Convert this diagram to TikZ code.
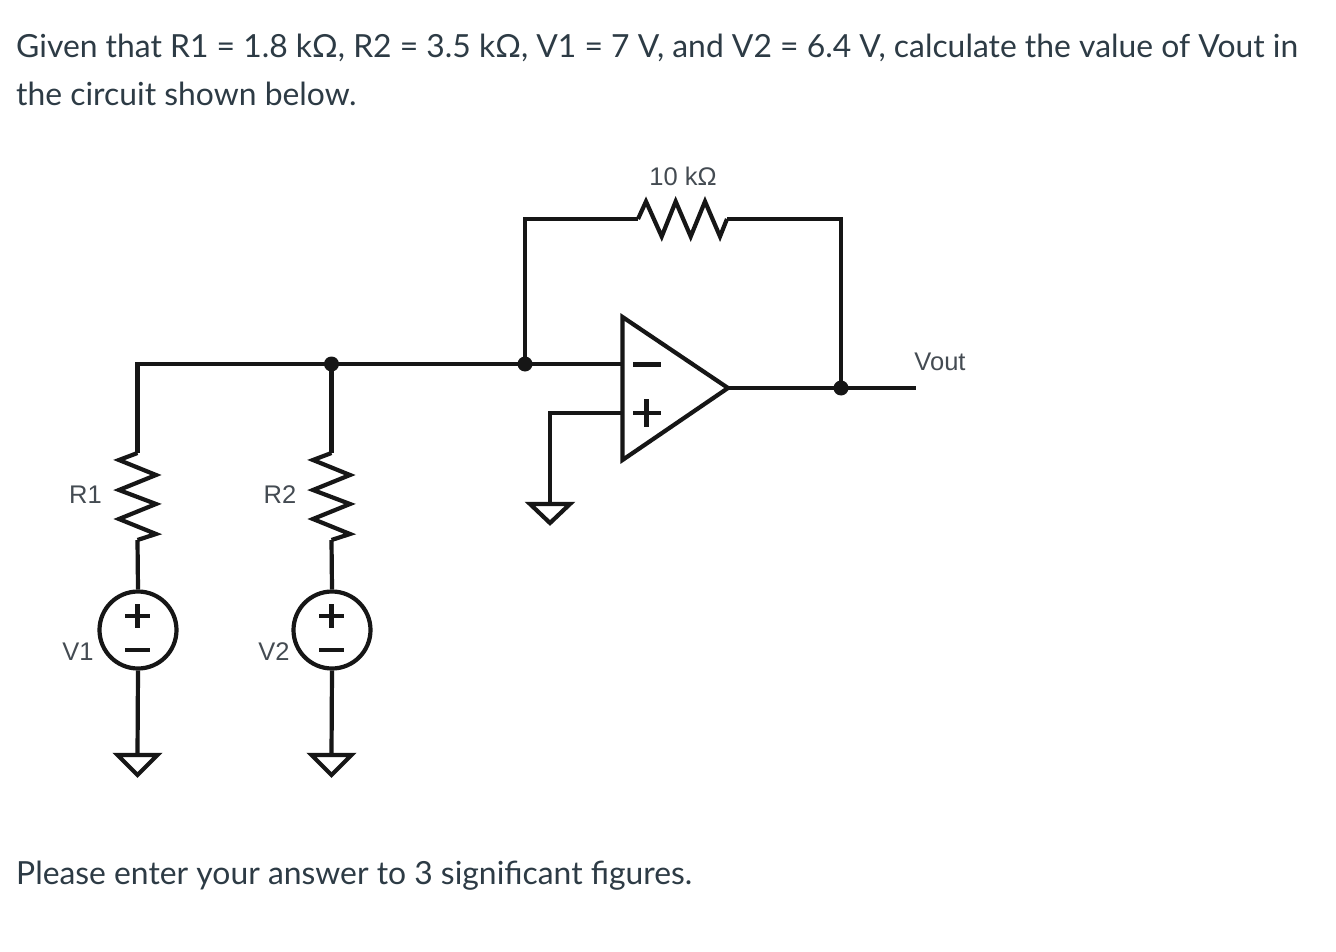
\documentclass[tikz,border=0pt]{standalone}
\usepackage{fontspec}
\setmainfont{Lato}[Ligatures=Common]
\newfontfamily\labelfont{Liberation Sans}
\definecolor{bodytext}{HTML}{2D3B45}
\definecolor{wirecol}{HTML}{161616}
\definecolor{labelcol}{HTML}{444B52}
\begin{document}
\begin{tikzpicture}[x=1pt,y=-1pt,
  wire/.style={draw=wirecol,line width=4.2pt,line join=miter},
  zig/.style={draw=wirecol,line width=4.2pt,line join=miter,miter limit=10},
  sym/.style={draw=wirecol,line width=4.2pt},
  dot/.style={circle,fill=wirecol,inner sep=0pt,minimum size=15pt},
  para/.style={anchor=base west,inner sep=0pt,text=bodytext,font=\fontsize{31.85}{37}\selectfont},
  lab/.style={inner sep=0pt,text=labelcol,font=\labelfont\fontsize{25.5}{29}\selectfont},
  source/.style={circle,draw=wirecol,line width=4.2pt,fill=white,minimum size=77pt,inner sep=0pt}]
\useasboundingbox (0,0) rectangle (1336,952);
\fill[white] (0,0) rectangle (1336,952);
% text
\node[para] (t1) at (16,57.5) {Given that R1 = 1.8 kΩ, R2 = 3.5 kΩ, V1 = 7 V, and V2 = 6.4 V, calculate the value of Vout in};
\node[para] (t2) at (16,105.5) {the circuit shown below.};
\node[para] (t3) at (16,884) {Please enter your answer to 3 significant figures.};
% coordinates
\coordinate (tl) at (525,219);
\coordinate (tr) at (841,219);
\coordinate (rfa) at (638,219);
\coordinate (rfb) at (727,219);
\coordinate (r1top) at (137.5,364);
\coordinate (r1a) at (137.5,453);
\coordinate (r1b) at (137.5,540);
\coordinate (r2a) at (331.5,453);
\coordinate (r2b) at (331.5,540);
\coordinate (inm) at (622.5,364);
\coordinate (inp) at (622.5,413);
\coordinate (gp) at (550,413);
\coordinate (gpb) at (550,504);
\coordinate (g1) at (137.5,755);
\coordinate (g2) at (331.5,755);
\coordinate (vo) at (916,388);
% opamp
\coordinate (oa) at (622.5,317);
\coordinate (ob) at (622.5,460);
\coordinate (oc) at (728,388);
\node[dot] (j1) at (331.5,364) {};
\node[dot] (j2) at (525,364) {};
\node[dot] (j3) at (841,388) {};
\node[source] (v1) at (138,630) {};
\node[source] (v2) at (332,630) {};
% wires
\draw[wire] (r1a) -- (r1top) -- (j1.center) -- (j2.center) -- (inm);
\draw[wire] (r2a) -- (j1.center);
\draw[wire] (j2.center) -- (tl) -- (rfa);
\draw[wire] (rfb) -- (tr) -- (j3.center);
\draw[wire] (oc) -- (j3.center) -- (vo);
\draw[wire] (inp) -- (gp) -- (gpb);
\draw[wire] (r1b) -- (v1.north);
\draw[wire] (r2b) -- (v2.north);
\draw[wire] (v1.south) -- (g1);
\draw[wire] (v2.south) -- (g2);
% resistors
\draw[zig] (rfa) -- (646,201.5) -- (661.7,236.5) -- (675.7,201.5) -- (690.7,236.5) -- (705,201.5) -- (720,236.5) -- (rfb);
\draw[zig] (r1a) -- (119,460) -- (156,475) -- (119,490) -- (156,504) -- (119,519) -- (156,534) -- (r1b);
\draw[zig] (r2a) -- (313,460) -- (350,475) -- (313,490) -- (350,504) -- (313,519) -- (350,534) -- (r2b);
% op amp body
\draw[wire] (oa) -- (oc) -- (ob) -- cycle;
\draw[sym] (633,364.5) -- (661,364.5);
\draw[sym] (633,413) -- (661,413) (646.5,399) -- (646.5,427);
% source marks
\draw[sym] (125,616) -- (150,616) (137.5,604) -- (137.5,628);
\draw[sym] (125,650) -- (150,650);
\draw[sym] (319,616) -- (344,616) (331.5,604) -- (331.5,628);
\draw[sym] (319,650) -- (344,650);
% grounds
\draw[wire] (g1) ++(-20,0) -- ++(40,0) -- (137.5,775) -- cycle;
\draw[wire] (g2) ++(-20,0) -- ++(40,0) -- (331.5,775) -- cycle;
\draw[wire] (gpb) ++(-20,0) -- ++(40,0) -- (550,523) -- cycle;
% labels
\node[lab] (lr) at (683,176) {10 kΩ};
\node[lab] (lv) at (940,362) {Vout};
\node[lab] (l1) at (85.5,495) {R1};
\node[lab] (l2) at (280,495) {R2};
\node[lab] (l3) at (78,652) {V1};
\node[lab] (l4) at (274,652) {V2};
\end{tikzpicture}
\end{document}
